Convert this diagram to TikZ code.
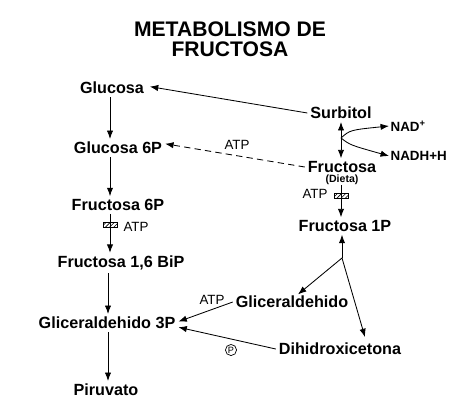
\documentclass[tikz,border=0pt]{standalone}
\usepackage{fontspec}
\setmainfont{Liberation Sans}
\usetikzlibrary{arrows.meta, patterns}

\begin{document}
\begin{tikzpicture}[
    x=0.025cm, y=-0.025cm,
    metab/.style={inner sep=2pt, font=\bfseries\fontsize{11.5}{13}\selectfont},
    cofactor/.style={inner sep=1pt, font=\fontsize{9.5}{10}\selectfont},
    enzbox/.style={rectangle, draw=black, line width=0.4pt, fill=white, pattern=north east lines, minimum width=14*0.025cm, minimum height=5*0.025cm, inner sep=0pt},
    arrow/.style={-{Latex[length=6pt, width=4.5pt]}, line width=0.6pt},
    dblarrow/.style={{Latex[length=6pt, width=4.5pt]}-{Latex[length=6pt, width=4.5pt]}, line width=0.6pt}
]
\useasboundingbox (0,0) rectangle (454,417);

% ==== Title ====
\node[align=center, font=\bfseries\fontsize{15}{14.5}\selectfont] (title) at (230,39) {METABOLISMO DE\\FRUCTOSA};

% ==== Glycolysis (left column) ====
\coordinate (axisL) at (110,0);
\coordinate (axisG) at (108,0);
\node[metab] (glucosa) at (112,88) {Glucosa};
\node[metab] (glucosa6p) at (118,148) {Glucosa 6P};
\node[metab] (fructosa6p) at (118,205) {Fructosa 6P};
\node[metab] (fructosabip) at (121,263) {Fructosa 1,6 BiP};
\node[metab] (gliceraldehido3p) at (107,323) {Gliceraldehido 3P};
\node[metab] (piruvato) at (106,390) {Piruvato};

% ==== Fructose pathway (right column) ====
\coordinate (axisR) at (341,0);
\node[metab] (surbitol) at (341,113) {Surbitol};
\node[metab] (fructosa) at (342,167) {Fructosa};
\node[inner sep=0pt, font=\bfseries\fontsize{7.5}{8}\selectfont] (dieta) at (342,180) {(Dieta)};
\node[metab] (fructosa1p) at (345,226) {Fructosa 1P};
\node[metab] (gliceraldehido) at (292,302) {Gliceraldehido};
\node[metab] (dihidroxicetona) at (340,349) {Dihidroxicetona};
\node[cofactor, anchor=west, font=\bfseries\fontsize{9.5}{10}\selectfont] (nad) at (389,126) {NAD\textsuperscript{+}};
\node[cofactor, anchor=west, font=\bfseries\fontsize{9.5}{10}\selectfont] (nadh) at (389,156) {NADH+H};

% ==== Cofactors ====
\node[cofactor] (atpdash) at (237,145) {ATP};
\node[cofactor] (atpright) at (315,194) {ATP};
\node[cofactor] (atpleft) at (136,227) {ATP};
\node[cofactor] (atpglic) at (212,300) {ATP};
\node[circle, draw=black, line width=0.5pt, inner sep=0.6pt, font=\fontsize{6.5}{6.5}\selectfont] (fosfato) at (231,350) {P};

% ==== Relations ====
\draw[arrow] (glucosa.south -| axisL) -- (glucosa6p.north -| axisL);
\draw[arrow] (glucosa6p.south -| axisL) -- (fructosa6p.north -| axisL);
\draw[arrow] (fructosa6p.south -| axisL) -- (fructosabip.north -| axisL);
\node[enzbox] (enzleft) at (110,225) {};
\draw[arrow] (fructosabip.south -| axisG) -- (gliceraldehido3p.north -| axisG);
\draw[arrow] (gliceraldehido3p.south -| axisG) -- (piruvato.north -| axisG);

\draw[arrow] (surbitol.west) -- ([xshift=2pt, yshift=1pt]glucosa.east);
\draw[arrow, dash pattern=on 4.5pt off 3pt] (fructosa.west) -- ([yshift=3pt]glucosa6p.east);

\draw[dblarrow] (surbitol.south -| axisR) -- (fructosa.north -| axisR);
\coordinate (nadsplit) at (341,138);
\draw[arrow] (nadsplit) .. controls (350,130) .. (nad.west);
\draw[arrow] (nadsplit) .. controls (350,145) .. (nadh.west);

\draw[arrow] (dieta.south -| axisR) -- (fructosa1p.north -| axisR);
\node[enzbox] (enzright) at (341,196) {};

\coordinate (split) at (342,258);
\draw[arrow] (split) -- (split |- fructosa1p.south);
\draw[arrow] (split) -- ([xshift=6*0.025cm, yshift=-1pt]gliceraldehido.north);
\draw[arrow] (split) -- ([xshift=25*0.025cm, yshift=2pt]dihidroxicetona.north);

\draw[arrow] (gliceraldehido.west) -- ([yshift=1pt]gliceraldehido3p.east);
\draw[arrow] (dihidroxicetona.west) -- ([yshift=-3pt]gliceraldehido3p.east);

\end{tikzpicture}
\end{document}
